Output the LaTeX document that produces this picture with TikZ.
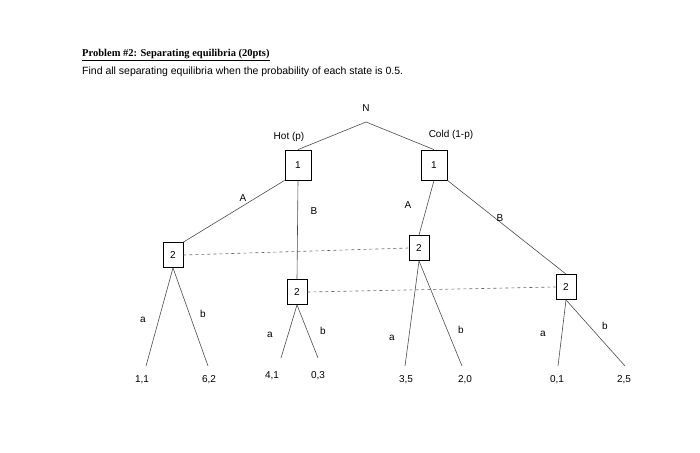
\documentclass[tikz,border=0pt]{standalone}
\usepackage{fontspec}
\setmainfont{Liberation Serif}
\newfontfamily\arialf{Liberation Sans}
\begin{document}
\begin{tikzpicture}[x=1pt,y=-1pt,
  lbl/.style={font=\arialf\fontsize{10}{12}\selectfont,inner sep=1pt},
  onebox/.style={draw,thick,minimum width=26pt,minimum height=30pt,inner sep=0pt,font=\arialf\fontsize{10}{12}\selectfont},
  twobox/.style={draw,thick,minimum width=20pt,minimum height=25pt,inner sep=0pt,font=\arialf\fontsize{10}{12}\selectfont},
  edge/.style={draw=black!70,line width=0.6pt},
  info/.style={draw=black!60,dashed,line width=0.6pt}]
\useasboundingbox (0,0) rectangle (700,452);
\node[anchor=west,inner sep=0pt,font=\bfseries\fontsize{10.5}{12}\selectfont] (t) at (82,55) {\underline{Problem \#2: Separating equilibria (20pts)}};
\node[anchor=west,inner sep=0pt,font=\arialf\fontsize{10.5}{12}\selectfont] (s) at (82,72) {Find all separating equilibria when the probability of each state is 0.5.};
\node[lbl] (Nl) at (366,108) {N};
\coordinate (root) at (366,122);
\node[onebox] (h) at (298,165) {1};
\node[onebox] (c) at (434,165) {1};
\node[lbl] at (289,137) {Hot (p)};
\node[lbl] at (451,135) {Cold (1-p)};
\node[twobox] (l2) at (173,255) {2};
\node[twobox] (m2) at (297,292) {2};
\node[twobox] (r2) at (419,248) {2};
\node[twobox] (rr) at (566,287) {2};
\draw[edge] (root) -- (h.north);
\draw[edge] (root) -- (c.north);
\draw[edge] (h.south west) -- (l2.north east);
\draw[edge] (h.south) -- (m2.north);
\draw[edge] (c.south) -- (r2.north);
\draw[edge] (c.south east) -- (rr.north);
\node[lbl] at (243,198) {A};
\node[lbl] at (314,211) {B};
\node[lbl] at (408,205) {A};
\node[lbl] at (500,218) {B};
\coordinate (t1) at (146,366); \coordinate (t2) at (208,366);
\coordinate (t3) at (281,358); \coordinate (t4) at (318,358);
\coordinate (t5) at (405,366); \coordinate (t6) at (462,366);
\coordinate (t7) at (558,366); \coordinate (t8) at (625,366);
\draw[edge] (l2.south) -- (t1); \draw[edge] (l2.south) -- (t2);
\draw[edge] (m2.south) -- (t3); \draw[edge] (m2.south) -- (t4);
\draw[edge] (r2.south) -- (t5); \draw[edge] (r2.south) -- (t6);
\draw[edge] (rr.south) -- (t7); \draw[edge] (rr.south) -- (t8);
\node[lbl] at (143,320) {a}; \node[lbl] at (203,314) {b};
\node[lbl] at (270,335) {a}; \node[lbl] at (323,331) {b};
\node[lbl] at (392,338) {a}; \node[lbl] at (461,330) {b};
\node[lbl] at (543,334) {a}; \node[lbl] at (605,326) {b};
\node[lbl] at (142,380) {1,1}; \node[lbl] at (209,380) {6,2};
\node[lbl] at (272,376) {4,1}; \node[lbl] at (318,376) {0,3};
\node[lbl] at (406,380) {3,5}; \node[lbl] at (465,380) {2,0};
\node[lbl] at (557,380) {0,1}; \node[lbl] at (624,380) {2,5};
\draw[info] (l2.east) -- (r2.west);
\draw[info] (m2.east) -- (rr.west);
\end{tikzpicture}
\end{document}
